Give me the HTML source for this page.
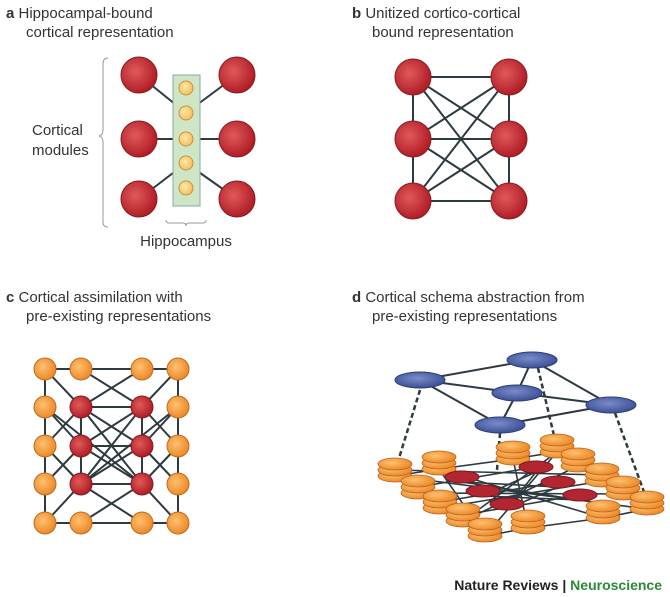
<!DOCTYPE html>
<html><head><meta charset="utf-8"><style>body{margin:0;background:#fff}svg{display:block}text{font-family:"Liberation Sans",sans-serif}</style></head><body>
<svg width="670" height="597" viewBox="0 0 670 597">
<defs>
<radialGradient id="r" cx="40%" cy="40%" r="60%"><stop offset="0" stop-color="#e05a5a"/><stop offset="1" stop-color="#b01e26"/></radialGradient>
<radialGradient id="o" cx="40%" cy="40%" r="60%"><stop offset="0" stop-color="#ffc070"/><stop offset="1" stop-color="#ec8a2a"/></radialGradient>
<radialGradient id="y" cx="40%" cy="40%" r="60%"><stop offset="0" stop-color="#ffe8a8"/><stop offset="1" stop-color="#f5c060"/></radialGradient>
<radialGradient id="b" cx="45%" cy="40%" r="60%"><stop offset="0" stop-color="#7a8cc8"/><stop offset="1" stop-color="#3b4f95"/></radialGradient>
<g id="s"><ellipse cx="0" cy="12" rx="17" ry="6"/><ellipse cx="0" cy="6" rx="17" ry="6"/><ellipse cx="0" cy="0" rx="17" ry="6"/></g>
</defs>
<g font-size="15" fill="#333">
<text x="6" y="18"><tspan font-weight="bold">a</tspan>  Hippocampal-bound</text><text x="26" y="37">cortical representation</text>
<text x="352" y="18"><tspan font-weight="bold">b</tspan>  Unitized cortico-cortical</text><text x="372" y="37">bound representation</text>
<text x="6" y="302"><tspan font-weight="bold">c</tspan>  Cortical assimilation with</text><text x="26" y="321">pre-existing representations</text>
<text x="352" y="302"><tspan font-weight="bold">d</tspan>  Cortical schema abstraction from</text><text x="372" y="321">pre-existing representations</text>
<text x="32" y="135">Cortical</text><text x="32" y="155">modules</text>
<text x="186" y="246" text-anchor="middle">Hippocampus</text>
</g>
<text x="662" y="590" font-size="14" font-weight="bold" text-anchor="end" fill="#222">Nature Reviews | <tspan fill="#2a8a3a">Neuroscience</tspan></text>
<!-- a -->
<path d="M108 58 q-5 0 -5 6 v66 q0 5 -4 6 q4 1 4 6 v80 q0 5 5 5" fill="none" stroke="#999"/>
<path d="M166 220 q0 3 3 3 h14 q3 0 3 3 q0 -3 3 -3 h14 q3 0 3 -3" fill="none" stroke="#999"/>
<g stroke="#2d3a40" stroke-width="2"><line x1="139" y1="75" x2="186" y2="113"/><line x1="237" y1="75" x2="186" y2="113"/><line x1="139" y1="139" x2="237" y2="139"/><line x1="139" y1="199" x2="186" y2="163"/><line x1="237" y1="199" x2="186" y2="163"/></g>
<rect x="173" y="75" width="27" height="131" fill="#cfe6c6" stroke="#8aa"/>
<g fill="url(#y)" stroke="#c99040"><circle cx="186" cy="88" r="7"/><circle cx="186" cy="113" r="7"/><circle cx="186" cy="139" r="7"/><circle cx="186" cy="163" r="7"/><circle cx="186" cy="188" r="7"/></g>
<g fill="url(#r)" stroke="#8a1a20"><circle cx="139" cy="75" r="18"/><circle cx="237" cy="75" r="18"/><circle cx="139" cy="139" r="18"/><circle cx="237" cy="139" r="18"/><circle cx="139" cy="199" r="18"/><circle cx="237" cy="199" r="18"/></g>
<!-- b -->
<g stroke="#2d3a40" stroke-width="2">
<line x1="413" y1="77" x2="413" y2="201"/><line x1="509" y1="77" x2="509" y2="201"/>
<line x1="413" y1="77" x2="509" y2="77"/><line x1="413" y1="77" x2="509" y2="139"/><line x1="413" y1="77" x2="509" y2="201"/>
<line x1="413" y1="139" x2="509" y2="77"/><line x1="413" y1="139" x2="509" y2="139"/><line x1="413" y1="139" x2="509" y2="201"/>
<line x1="413" y1="201" x2="509" y2="77"/><line x1="413" y1="201" x2="509" y2="139"/><line x1="413" y1="201" x2="509" y2="201"/>
</g>
<g fill="url(#r)" stroke="#8a1a20"><circle cx="413" cy="77" r="18"/><circle cx="509" cy="77" r="18"/><circle cx="413" cy="139" r="18"/><circle cx="509" cy="139" r="18"/><circle cx="413" cy="201" r="18"/><circle cx="509" cy="201" r="18"/></g>
<!-- c -->
<g stroke="#2d3a40" stroke-width="2">
<line x1="45" y1="369" x2="178" y2="369"/><line x1="45" y1="523" x2="178" y2="523"/><line x1="45" y1="369" x2="45" y2="523"/><line x1="178" y1="369" x2="178" y2="523"/>
<line x1="81" y1="407" x2="81" y2="484"/><line x1="142" y1="407" x2="142" y2="484"/>
<line x1="81" y1="407" x2="142" y2="407"/><line x1="81" y1="446" x2="142" y2="446"/><line x1="81" y1="484" x2="142" y2="484"/>
<line x1="81" y1="407" x2="142" y2="446"/><line x1="81" y1="407" x2="142" y2="484"/><line x1="81" y1="446" x2="142" y2="407"/><line x1="81" y1="446" x2="142" y2="484"/><line x1="81" y1="484" x2="142" y2="407"/><line x1="81" y1="484" x2="142" y2="446"/>
<line x1="45" y1="369" x2="81" y2="407"/><line x1="178" y1="369" x2="142" y2="407"/><line x1="45" y1="523" x2="81" y2="484"/><line x1="178" y1="523" x2="142" y2="484"/>
<line x1="81" y1="369" x2="142" y2="407"/><line x1="142" y1="369" x2="81" y2="407"/><line x1="81" y1="523" x2="142" y2="484"/><line x1="142" y1="523" x2="81" y2="484"/>
<line x1="45" y1="407" x2="81" y2="446"/><line x1="45" y1="446" x2="81" y2="407"/><line x1="45" y1="446" x2="81" y2="484"/><line x1="45" y1="484" x2="81" y2="446"/>
<line x1="178" y1="407" x2="142" y2="446"/><line x1="178" y1="446" x2="142" y2="407"/><line x1="178" y1="446" x2="142" y2="484"/><line x1="178" y1="484" x2="142" y2="446"/>
<line x1="45" y1="407" x2="142" y2="484"/><line x1="178" y1="407" x2="81" y2="484"/>
</g>
<g fill="url(#o)" stroke="#c06a20">
<circle cx="45" cy="369" r="11"/><circle cx="81" cy="369" r="11"/><circle cx="142" cy="369" r="11"/><circle cx="178" cy="369" r="11"/>
<circle cx="45" cy="407" r="11"/><circle cx="178" cy="407" r="11"/><circle cx="45" cy="446" r="11"/><circle cx="178" cy="446" r="11"/><circle cx="45" cy="484" r="11"/><circle cx="178" cy="484" r="11"/>
<circle cx="45" cy="523" r="11"/><circle cx="81" cy="523" r="11"/><circle cx="142" cy="523" r="11"/><circle cx="178" cy="523" r="11"/>
</g>
<g fill="url(#r)" stroke="#8a1a20"><circle cx="81" cy="407" r="11"/><circle cx="142" cy="407" r="11"/><circle cx="81" cy="446" r="11"/><circle cx="142" cy="446" r="11"/><circle cx="81" cy="484" r="11"/><circle cx="142" cy="484" r="11"/></g>
<!-- d -->
<g stroke="#2d3a40" stroke-width="2.5" stroke-dasharray="5,3">
<line x1="420" y1="390" x2="396" y2="468"/><line x1="538" y1="368" x2="556" y2="444"/><line x1="500" y1="433" x2="497" y2="470"/><line x1="615" y1="413" x2="647" y2="500"/>
</g>
<g stroke="#2d3a40" stroke-width="2">
<line x1="532" y1="360" x2="420" y2="380"/><line x1="420" y1="380" x2="517" y2="393"/><line x1="420" y1="380" x2="500" y2="425"/><line x1="532" y1="360" x2="517" y2="393"/><line x1="532" y1="360" x2="611" y2="405"/><line x1="517" y1="393" x2="611" y2="405"/><line x1="517" y1="393" x2="500" y2="425"/><line x1="500" y1="425" x2="611" y2="405"/>
</g>
<g fill="url(#b)" stroke="#2e3f7a"><ellipse cx="532" cy="360" rx="25" ry="8"/><ellipse cx="420" cy="380" rx="25" ry="8"/><ellipse cx="517" cy="393" rx="25" ry="8"/><ellipse cx="611" cy="405" rx="25" ry="8"/><ellipse cx="500" cy="425" rx="25" ry="8"/></g>
<g stroke="#2d3a40" stroke-width="1.6">
<path d="M395 476 L439 469 L513 459 L557 452 L578 466 L602 481 L623 494 L647 509 L603 518 L528 528 L485 536 L463 521 L440 508 L418 493 Z" fill="none"/>
<line x1="395" y1="476" x2="647" y2="509"/><line x1="418" y1="493" x2="623" y2="494"/><line x1="440" y1="508" x2="602" y2="481"/><line x1="463" y1="521" x2="578" y2="466"/><line x1="485" y1="536" x2="557" y2="452"/>
<line x1="439" y1="469" x2="603" y2="518"/><line x1="513" y1="459" x2="528" y2="528"/><line x1="439" y1="469" x2="485" y2="536"/><line x1="557" y1="452" x2="463" y2="521"/>
<line x1="462" y1="482" x2="580" y2="500"/><line x1="483" y1="496" x2="536" y2="472"/><line x1="507" y1="509" x2="558" y2="487"/><line x1="462" y1="482" x2="558" y2="487"/><line x1="536" y1="472" x2="507" y2="509"/><line x1="483" y1="496" x2="580" y2="500"/>
<line x1="418" y1="487" x2="536" y2="467"/><line x1="440" y1="502" x2="558" y2="482"/><line x1="463" y1="515" x2="580" y2="495"/><line x1="395" y1="470" x2="602" y2="475"/>
</g>
<g fill="url(#o)" stroke="#b86420" stroke-width="0.8">
<use href="#s" x="395" y="464"/><use href="#s" x="439" y="457"/><use href="#s" x="513" y="447"/><use href="#s" x="557" y="440"/><use href="#s" x="578" y="454"/><use href="#s" x="602" y="469"/><use href="#s" x="623" y="482"/><use href="#s" x="418" y="481"/><use href="#s" x="440" y="496"/><use href="#s" x="463" y="509"/><use href="#s" x="485" y="524"/><use href="#s" x="528" y="516"/><use href="#s" x="603" y="506"/><use href="#s" x="647" y="497"/>
</g>
<g fill="#b32530" stroke="#7a1a20"><ellipse cx="462" cy="477" rx="17" ry="6"/><ellipse cx="536" cy="467" rx="17" ry="6"/><ellipse cx="483" cy="491" rx="17" ry="6"/><ellipse cx="558" cy="482" rx="17" ry="6"/><ellipse cx="507" cy="504" rx="17" ry="6"/><ellipse cx="580" cy="495" rx="17" ry="6"/></g>
</svg>
</body></html>
